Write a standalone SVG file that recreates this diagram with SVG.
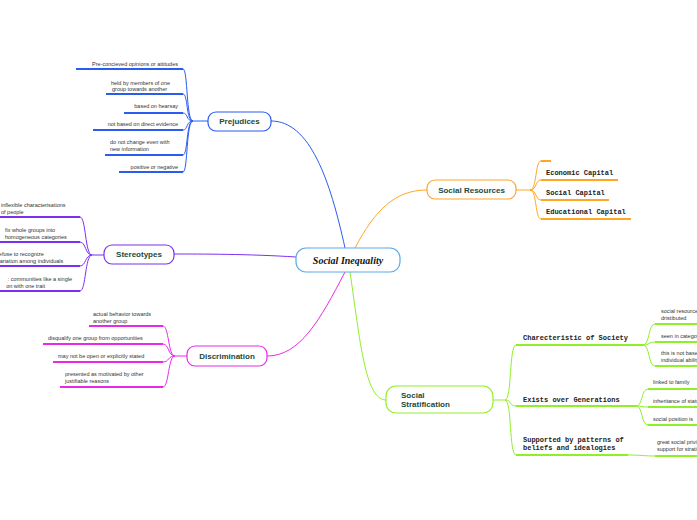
<svg xmlns="http://www.w3.org/2000/svg" width="697" height="520" viewBox="0 0 697 520">
<style>
.n{fill:#fff;stroke-width:1.2}
.nt{font-family:"Liberation Sans",Arial,sans-serif;font-size:8px;font-weight:bold;fill:#1b4a3c}
.lt{font-family:"Liberation Sans",Arial,sans-serif;font-size:5.5px;fill:#333}
.mt{font-family:"Liberation Mono","Courier New",monospace;font-size:7px;font-weight:bold;fill:#222}
.c{fill:none;stroke-width:1}
.u{fill:none;stroke-width:1.8}
.b{stroke:#2a5cf0}.p{stroke:#7b32ee}.m{stroke:#e82ae8}.o{stroke:#ffa624}.g{stroke:#8ff02a}
</style>
<rect width="697" height="520" fill="#fff"/>
<g id="connectors">
<path class="c b" stroke-width="1.5" d="M345 248 C330 180 310 121 271 121"/>
<path class="c p" stroke-width="1.5" d="M296 257 C250 254 200 254 174 254"/>
<path class="c m" stroke-width="1.5" d="M345 272 C320 320 300 356 267 356"/>
<path class="c o" stroke-width="1.5" d="M355 248 C375 210 395 190 427 190"/>
<path class="c g" stroke-width="1.5" d="M350 272 C360 340 365 400 386 400"/>
<path class="c b" d="M208 121 H193 M193 121 C186 121 188 69 183 69 M193 121 C186 121 188 94 183 94 M193 121 C186 121 188 113 183 113 M193 121 C186 121 188 130 183 130 M193 121 C186 121 188 155 183 155 M193 121 C186 121 188 172 183 172"/>
<path class="u b" d="M76 69 H183 M106 94 H183 M124 113 H183 M93 130 H183 M105 155 H183 M119 172 H183"/>
<path class="c p" d="M104 255 H92 M92 255 C85 255 86 217 80 217 M92 255 C85 255 86 242 80 242 M92 255 C85 255 86 266 80 266 M92 255 C85 255 86 291 80 291"/>
<path class="u p" d="M0 217 H80 M0 242 H80 M0 266 H80 M0 291 H80"/>
<path class="c m" d="M187 356 H175 M175 356 C168 356 169 326 163 326 M175 356 C168 356 169 344 163 344 M175 356 C168 356 169 362 163 362 M175 356 C168 356 169 387 163 387"/>
<path class="u m" d="M89 326 H163 M43 344 H163 M53 362 H163 M60 387 H163"/>
<path class="c o" d="M516 190 H530 M530 190 C537 190 535 161 541 161 M530 190 C537 190 535 180 541 180 M530 190 C537 190 535 200 541 200 M530 190 C537 190 535 219 541 219"/>
<path class="u o" d="M541 161 H551 M541 180 H618 M541 200 H609 M541 219 H631"/>
<path class="c g" d="M493 400 H505 M505 400 C512 400 509 345 516 345 M505 400 C512 400 509 406 516 406 M505 400 C512 400 509 455 516 455"/>
<path class="u g" d="M516 345 H643 M516 406 H636 M516 455 H628"/>
<path class="c g" d="M643 345 C650 345 648 324 655 324 M643 345 C650 345 648 342 655 342 M643 345 C650 345 648 366 655 366 M636 406 C643 406 641 389 648 389 M636 406 C643 406 641 407 648 407 M636 406 C643 406 641 425 648 425 M628 455 C640 455 645 456 655 456"/>
<path class="u g" d="M655 324 H697 M655 342 H697 M655 366 H697 M648 389 H697 M648 407 H697 M648 425 H697 M655 456 H697"/>
</g>
<g id="center"><rect class="n" x="296" y="248" width="104" height="24" rx="10" stroke="#5aa8e8"/><text x="348" y="264" text-anchor="middle" font-family="Liberation Serif,serif" font-size="10" font-weight="bold" font-style="italic" fill="#111">Social Inequality</text></g>
<g id="prejudices"><rect class="n b" x="208" y="112" width="63" height="19" rx="8"/><text class="nt" x="239.5" y="124" text-anchor="middle">Prejudices</text>
<g class="lt"><text x="178" y="66" text-anchor="end">Pre-concieved opinions or attitudes</text><text x="111" y="85">held by members of one</text><text x="112" y="91">group towards another</text><text x="178" y="108" text-anchor="end">based on hearsay</text><text x="178" y="126" text-anchor="end">not based on direct evidence</text><text x="110" y="144">do not change even with</text><text x="110" y="151">new information</text><text x="178" y="169" text-anchor="end">positive or negative</text></g></g>
<g id="stereotypes"><rect class="n p" x="104" y="245" width="70" height="19" rx="8"/><text class="nt" x="139" y="257" text-anchor="middle">Stereotypes</text>
<g class="lt"><text x="1" y="207">inflexible characterisations</text><text x="1" y="214">of people</text><text x="5" y="232">fix whole groups into</text><text x="5" y="239">homogeneous categories</text><text x="-3" y="256">refuse to recognize</text><text x="-3" y="263">variation among individuals</text><text x="72" y="281" text-anchor="end">: communities like a single</text><text x="45" y="288" text-anchor="end">on with one trait</text></g></g>
<g id="discrimination"><rect class="n m" x="187" y="346" width="80" height="20" rx="8"/><text class="nt" x="227" y="359" text-anchor="middle">Discrimination</text>
<g class="lt"><text x="93" y="316">actual behavior towards</text><text x="93" y="323">another group</text><text x="48" y="340">disqualify one group from opportunities</text><text x="58" y="358">may not be open or explicitly stated</text><text x="65" y="376">presented as motivated by other</text><text x="65" y="383">justifiable reasons</text></g></g>
<g id="resources"><rect class="n o" x="427" y="180" width="89" height="19" rx="8"/><text class="nt" x="471.5" y="192.5" text-anchor="middle">Social Resources</text>
<g class="mt"><text x="546" y="175">Economic Capital</text><text x="546" y="195">Social Capital</text><text x="546" y="214">Educational Capital</text></g></g>
<g id="stratification"><rect class="n g" x="386" y="386" width="107" height="27" rx="10"/><text class="nt" x="401" y="398">Social</text><text class="nt" x="401" y="407">Stratification</text>
<g class="mt"><text x="523" y="340">Charecteristic of Society</text><text x="523" y="402">Exists over Generations</text><text x="523" y="442">Supported by patterns of</text><text x="523" y="450">beliefs and idealogies</text></g>
<g class="lt"><text x="661" y="313">social resources unequally</text><text x="661" y="320">dristibuted</text><text x="661" y="338">seen in categories</text><text x="661" y="355">this is not based on</text><text x="661" y="362">individual ability</text><text x="653" y="384">linked to family</text><text x="653" y="403">inheritance of status</text><text x="653" y="421">social position is</text><text x="657" y="444">great social privilege</text><text x="657" y="451">support for stratification</text></g></g>
</svg>
